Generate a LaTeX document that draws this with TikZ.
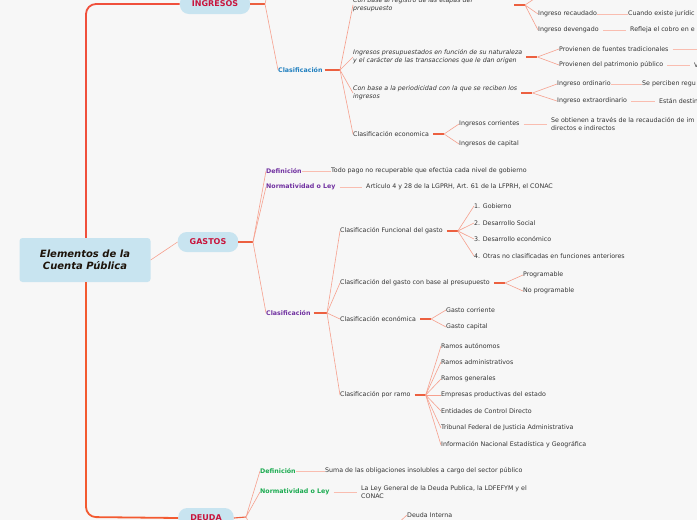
\documentclass[tikz,border=0pt]{standalone}
\usepackage{fontspec}
\setmainfont{DejaVu Sans}
\begin{document}
\begin{tikzpicture}[x=1pt,y=-1pt,
 t/.style={anchor=west,inner sep=0pt,font=\fontsize{6.3}{7.8}\selectfont,text=black!80,align=left},
 ti/.style={t,font=\fontsize{6.3}{7.8}\selectfont\itshape},
 lb/.style={t,font=\fontsize{6.3}{7.8}\selectfont\bfseries},
 pill/.style={fill=pillc,rounded corners=9pt,minimum height=20pt,inner xsep=12pt,text=ttl,font=\fontsize{8}{9}\selectfont\bfseries},
 br/.style={draw=salm,line width=0.6pt},
 st/.style={draw=stub,line width=1.1pt},
 lk/.style={draw=salm!70,line width=1pt,shorten <=4pt,shorten >=4pt}]
\definecolor{bg}{HTML}{F7F7F7}
\definecolor{pillc}{HTML}{C8E4F0}
\definecolor{ttl}{HTML}{C8143C}
\definecolor{salm}{HTML}{F6A08E}
\definecolor{stub}{HTML}{EC6040}
\definecolor{spine}{HTML}{F0503C}
\definecolor{pur}{HTML}{7030A0}
\definecolor{blu}{HTML}{1F7FBF}
\definecolor{grn}{HTML}{1AAB50}
\fill[bg] (0,0) rectangle (697,520);
\useasboundingbox (0,0) rectangle (697,520);
\clip (0,0) rectangle (697,520);
% central
\node[fill=pillc,rounded corners=3pt,minimum width=131pt,minimum height=44pt,align=center,text=black!85!brown,font=\fontsize{10}{12}\selectfont\bfseries\itshape] (c) at (85,260) {Elementos de la\\Cuenta Pública};
\node[pill] (ing) at (215,4) {INGRESOS};
\node[pill] (gas) at (208,242) {GASTOS};
\node[pill] (deu) at (206,518) {DEUDA};
\draw[spine,line width=1.8pt,rounded corners=10pt] (c.north) ++(1,0) -- (86,4) -- (ing.west);
\draw[spine!80!orange,line width=1.8pt,rounded corners=10pt] (c.south) ++(1,0) -- (86,517) -- (deu.west);
\draw[br] (c.east) -- (gas.west);
% INGRESOS
\draw[st] (ing.east) -- (265,4) coordinate (fi);
\node[lb,text=blu] (icl) at (278,70) {Clasificación};
\draw[br] (fi) -- (icl.west) (fi) -- (267,-5);
\draw[st] (icl.east) ++(2,0) -- (340,70) coordinate (fic);
\node[ti] (r1) at (353,5) {Con base al registro de las etapas del\\presupuesto};
\node[ti] (r2) at (353,57) {Ingresos presupuestados en función de su naturaleza\\y el carácter de las transacciones que le dan origen};
\node[ti] (r3) at (353,93) {Con base a la periodicidad con la que se reciben los\\ingresos};
\node[t] (r4) at (353,134) {Clasificación economica};
\foreach \n in {r1,r2,r3,r4} \draw[br] (fic) -- (\n.west);
% registro
\draw[st] (514,5) -- (525,5) coordinate (f1);
\node[t] (a2) at (538,14) {Ingreso recaudado};
\node[t] (a3) at (538,30) {Ingreso devengado};
\draw[br] (f1) -- (a2.west) (f1) -- (a3.west) (f1) -- (537,-3);
\node[t] (a2b) at (628,14) {Cuando existe jurídic};
\node[t] (a3b) at (630,30) {Refleja el cobro en e};
\draw[lk] (a2) -- (a2b) (a3) -- (a3b);
% presupuestados
\draw[st] (r2.east) ++(4,0) -- ++(11,0) coordinate (f2);
\node[t] (b1) at (559,49) {Provienen de fuentes tradicionales};
\node[t] (b2) at (559,65) {Provienen del patrimonio público};
\draw[br] (f2) -- (b1.west) (f2) -- (b2.west);
\node[t] (b2b) at (694,65) {V};
\coordinate (b1e) at (705,49);
\draw[lk] (b1) -- (b1e);
\draw[lk] (b2) -- (b2b);
% periodicidad
\draw[st] (r3.east) ++(4,0) -- ++(11,0) coordinate (f3);
\node[t] (c1) at (557,84) {Ingreso ordinario};
\node[t] (c2) at (557,101) {Ingreso extraordinario};
\draw[br] (f3) -- (c1.west) (f3) -- (c2.west);
\node[t] (c1b) at (642,84) {Se perciben regu};
\node[t] (c2b) at (659,101) {Están destin};
\draw[lk] (c1) -- (c1b) (c2) -- (c2b);
% economica
\draw[st] (r4.east) ++(4,0) -- ++(11,0) coordinate (f4);
\node[t] (d1) at (459,124) {Ingresos corrientes};
\node[t] (d2) at (459,144) {Ingresos de capital};
\draw[br] (f4) -- (d1.west) (f4) -- (d2.west);
\node[t] (d1b) at (551,124) {Se obtienen a través de la recaudación de im\\directos e indirectos};
\draw[lk] (d1) -- (d1b);
% GASTOS
\draw[st] (gas.east) -- (253,242) coordinate (fg);
\node[lb,text=pur] (gd) at (266,171) {Definición};
\node[lb,text=pur] (gn) at (266,187) {Normatividad o Ley};
\node[lb,text=pur] (gc) at (266,313) {Clasificación};
\foreach \n in {gd,gn,gc} \draw[br] (fg) -- (\n.west);
\node[t] (gdb) at (331,171) {Todo pago no recuperable que efectúa cada nivel de gobierno};
\node[t] (gnb) at (366,187) {Artículo 4 y 28 de la LGPRH, Art. 61 de la LFPRH, el CONAC};
\draw[lk] (gd) -- (gdb) (gn) -- (gnb);
\draw[st] (gc.east) ++(3,0) -- (327,313) coordinate (fgc);
\node[t] (e1) at (340,231) {Clasificación Funcional del gasto};
\node[t] (e2) at (340,283) {Clasificación del gasto con base al presupuesto};
\node[t] (e3) at (340,319) {Clasificación económica};
\node[t] (e4) at (340,395) {Clasificación por ramo};
\foreach \n in {e1,e2,e3,e4} \draw[br] (fgc) -- (\n.west);
\draw[st] (e1.east) ++(4,0) -- ++(11,0) coordinate (fe1);
\foreach \y/\s [count=\i] in {206/1. Gobierno,223/2. Desarrollo Social,239/3. Desarrollo económico,256/4. Otras no clasificadas en funciones anteriores}
 {\node[t] (e1\i) at (474,\y) {\s}; \draw[br] (fe1) -- (e1\i.west);}
\draw[st] (e2.east) ++(4,0) -- ++(11,0) coordinate (fe2);
\node[t] (e21) at (523,275) {Programable};
\node[t] (e22) at (523,291) {No programable};
\draw[br] (fe2) -- (e21.west) (fe2) -- (e22.west);
\draw[st] (e3.east) ++(4,0) -- ++(11,0) coordinate (fe3);
\node[t] (e31) at (446,310) {Gasto corriente};
\node[t] (e32) at (446,327) {Gasto capital};
\draw[br] (fe3) -- (e31.west) (fe3) -- (e32.west);
\draw[st] (e4.east) ++(4,0) -- ++(11,0) coordinate (fe4);
\foreach \y/\s [count=\i] in {346/Ramos autónomos,362/Ramos administrativos,379/Ramos generales,395/Empresas productivas del estado,411/Entidades de Control Directo,428/Tribunal Federal de Justicia Administrativa,445/Información Nacional Estadística y Geográfica}
 {\node[t] (e4\i) at (441,\y) {\s}; \draw[br] (fe4) -- (e4\i.west);}
% DEUDA
\draw[st] (deu.east) -- (246,517) coordinate (fd);
\node[lb,text=grn] (dd) at (260,471) {Definición};
\node[lb,text=grn] (dn) at (260,492) {Normatividad o Ley};
\draw[br] (fd) -- (dd.west) (fd) -- (dn.west) (fd) -- (250,525);
\node[t] (ddb) at (325,471) {Suma de las obligaciones insolubles a cargo del sector público};
\node[t] (dnb) at (361,492) {La Ley General de la Deuda Publica, la LDFEFYM y el\\CONAC};
\draw[lk] (dd) -- (ddb) (dn) -- (dnb);
\node[t] (di) at (407,515) {Deuda Interna};
\draw[br] (396,525) -- (di.west);
\end{tikzpicture}
\end{document}
